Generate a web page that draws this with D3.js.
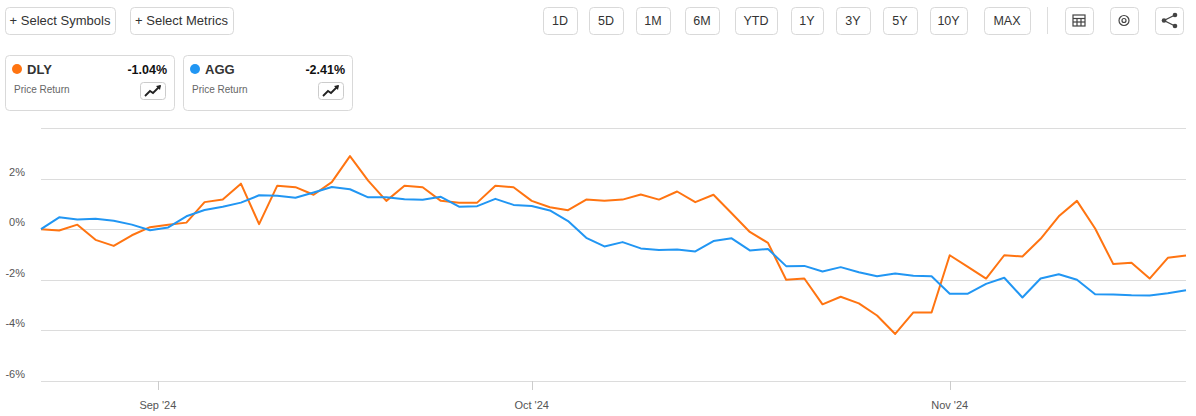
<!DOCTYPE html>
<html><head><meta charset="utf-8">
<script src="https://cdn.jsdelivr.net/npm/d3@7"></script>
<style>body{margin:0;background:#fff;font-family:Arial,"Liberation Sans",sans-serif}</style>
</head><body><svg id="c" width="1196" height="416"></svg>
<script>
const dly = [0,-0.05,0.18,-0.42,-0.66,-0.24,0.08,0.18,0.26,1.07,1.17,1.80,0.2,1.72,1.66,1.36,1.86,2.89,1.92,1.12,1.72,1.66,1.12,1.05,1.05,1.72,1.66,1.12,0.87,0.75,1.17,1.12,
1.17,1.37,1.17,1.49,1.07,1.36,0.63,-0.11,-0.54,-2.0,-1.95,-2.97,-2.67,-2.93,-3.41,-4.14,-3.29,-3.29,-1.03,-1.49,-1.95,-1.03,-1.08,-0.38,0.51,1.12,0.03,-1.38,-1.33,-1.95,-1.13,-1.04];
const agg = [0,0.47,0.38,0.41,0.33,0.18,-0.04,0.07,0.51,0.76,0.89,1.05,1.34,1.32,1.24,1.45,1.67,1.58,1.26,1.26,1.18,1.16,1.28,0.89,0.91,1.20,0.96,0.92,0.74,0.32,-0.34,-0.68,
-0.51,-0.76,-0.82,-0.80,-0.88,-0.47,-0.36,-0.84,-0.78,-1.46,-1.45,-1.67,-1.50,-1.70,-1.86,-1.75,-1.84,-1.86,-2.55,-2.55,-2.16,-1.92,-2.70,-1.95,-1.78,-2.0,-2.57,-2.58,-2.61,-2.62,-2.53,-2.41];
const xTickPos = [6.43, 27, 50];
const xTickLabels = ["Sep '24", "Oct '24", "Nov '24"];
const yTicks = [-6,-4,-2,0,2,4];
const ranges = ["1D","5D","1M","6M","YTD","1Y","3Y","5Y","10Y","MAX"];
const series = [{name:"DLY",val:"-1.04%",color:"#ff7411",data:dly},{name:"AGG",val:"-2.41%",color:"#2196f3",data:agg}];

const svg = d3.select("#c");
const x = d3.scaleLinear().domain([0, dly.length-1]).range([41,1186]);
const y = d3.scaleLinear().domain([-6,4]).range([381,128]);

function btn(x0,y0,w,h,label,fs){
  svg.append("rect").attr("x",x0+.5).attr("y",y0+.5).attr("width",w).attr("height",h).attr("rx",4).attr("fill","#fff").attr("stroke","#d9d9d9");
  if(label) svg.append("text").attr("x",x0+w/2).attr("y",y0+h/2+4.5).attr("text-anchor","middle").attr("font-size",fs||13).attr("fill","#333").text(label);
}
btn(5,7,110,27,"+ Select Symbols");
btn(130,7,103,27,"+ Select Metrics");
const rx=[543,589,636,685,735,791,836,883,930,984], rw=[34,34,34,34,42,32,34,34,37,46];
ranges.forEach((r,i)=>btn(rx[i],7,rw[i],27,r,12.5));
svg.append("line").attr("x1",1047.5).attr("x2",1047.5).attr("y1",7).attr("y2",34).attr("stroke","#ddd");
[1065,1110,1155].forEach(v=>btn(v,7,28,27));
// icons
const g1=svg.append("g").attr("fill","none").attr("stroke","#444").attr("stroke-width",1.2);
g1.append("rect").attr("x",1073).attr("y",15).attr("width",12).attr("height",11);
g1.append("line").attr("x1",1073).attr("x2",1085).attr("y1",18.5).attr("y2",18.5);
g1.append("line").attr("x1",1073).attr("x2",1085).attr("y1",22).attr("y2",22);
g1.append("line").attr("x1",1077).attr("x2",1077).attr("y1",18.5).attr("y2",26);
g1.append("line").attr("x1",1081).attr("x2",1081).attr("y1",18.5).attr("y2",26);
g1.append("circle").attr("cx",1124).attr("cy",20.5).attr("r",5);
g1.append("circle").attr("cx",1124).attr("cy",20.5).attr("r",2);
const sh=svg.append("g").attr("fill","#444");
sh.append("path").attr("d","M1175 15 L1164 20.5 L1175 26").attr("fill","none").attr("stroke","#444").attr("stroke-width",1.3);
[[1175,15],[1164,20.5],[1175,26]].forEach(p=>sh.append("circle").attr("cx",p[0]).attr("cy",p[1]).attr("r",2.3));

// legend cards
series.forEach((s,i)=>{
  const x0=[5,183][i], w=169;
  svg.append("rect").attr("x",x0+.5).attr("y",55.5).attr("width",w).attr("height",55).attr("rx",4).attr("fill","#fff").attr("stroke","#d9d9d9");
  svg.append("circle").attr("cx",x0+12).attr("cy",69).attr("r",5).attr("fill",s.color);
  svg.append("text").attr("x",x0+22).attr("y",74).attr("font-size",13).attr("font-weight","bold").attr("fill","#333").text(s.name);
  svg.append("text").attr("x",x0+w-7).attr("y",74).attr("text-anchor","end").attr("font-size",12.5).attr("font-weight","bold").attr("fill","#111").text(s.val);
  svg.append("text").attr("x",x0+9).attr("y",93).attr("font-size",10).attr("fill","#666").text("Price Return");
  svg.append("rect").attr("x",x0+135.5).attr("y",82.5).attr("width",25).attr("height",17).attr("rx",3).attr("fill","#fff").attr("stroke","#ccc");
  svg.append("path").attr("d",`M${x0+140} ${96} L${x0+145} ${91} L${x0+148} ${93} L${x0+155} ${86}`).attr("fill","none").attr("stroke","#222").attr("stroke-width",1.8);
  svg.append("path").attr("d",`M${x0+151} ${86} L${x0+156} ${85} L${x0+155} ${90}Z`).attr("fill","#222");
});

// grid
yTicks.forEach(t=>{
  svg.append("line").attr("x1",41).attr("x2",1186).attr("y1",Math.round(y(t))+.5).attr("y2",Math.round(y(t))+.5).attr("stroke","#dcdcdc").attr("stroke-width",1);
  if(t!==4) svg.append("text").attr("x",25).attr("y",y(t)-3).attr("text-anchor","end").attr("font-size",11).attr("fill","#555").text(t+"%");
});
xTickPos.forEach((p,i)=>{
  svg.append("line").attr("x1",Math.round(x(p))+.5).attr("x2",Math.round(x(p))+.5).attr("y1",381).attr("y2",390).attr("stroke","#ccc");
  svg.append("text").attr("x",x(p)).attr("y",409).attr("text-anchor","middle").attr("font-size",11).attr("fill","#555").text(xTickLabels[i]);
});
const line=d3.line().x((d,i)=>x(i)).y(d=>y(d));
series.forEach(s=>svg.append("path").datum(s.data).attr("d",line).attr("fill","none").attr("stroke",s.color).attr("stroke-width",2).attr("stroke-linejoin","round"));
</script></body></html>
